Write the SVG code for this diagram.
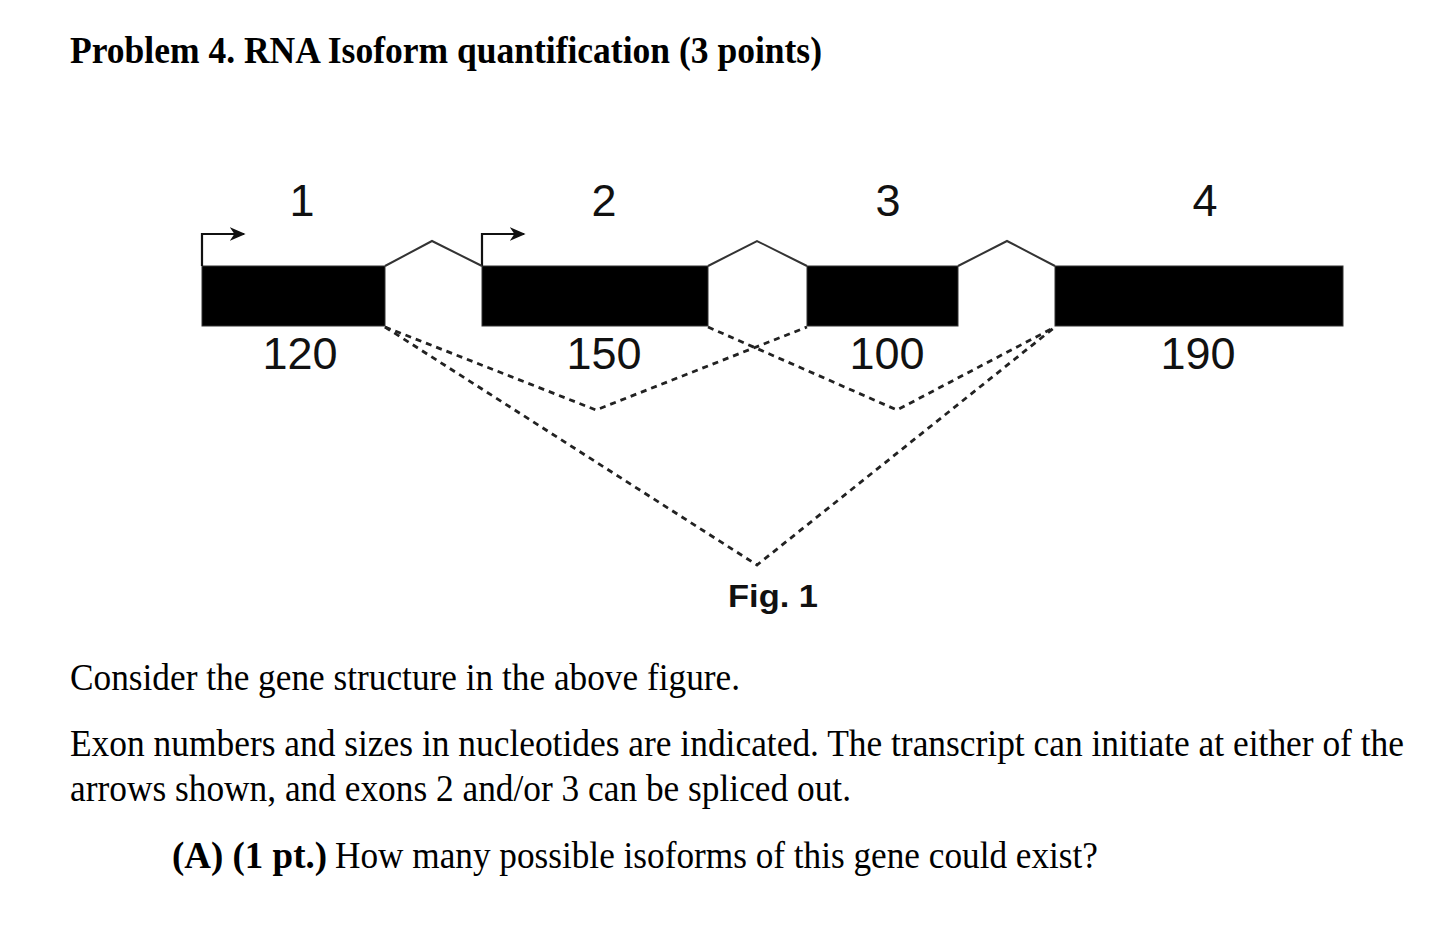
<svg xmlns="http://www.w3.org/2000/svg" width="1430" height="926" viewBox="0 0 1430 926">
<defs>
<style>
.serif{font-family:"Liberation Serif","Times New Roman",serif;fill:#000}
.b{font-weight:bold}
.num{font-family:"Liberation Sans",Arial,sans-serif;font-size:45px;fill:#111;text-anchor:middle}
.exon{fill:#000;stroke:#333;stroke-width:1}
.intron{fill:none;stroke:#333;stroke-width:2}
.skip{fill:none;stroke:#222;stroke-width:2.8;stroke-dasharray:6 5}
.tss{fill:none;stroke:#111;stroke-width:2.2}
</style>
<marker id="ah" viewBox="0 0 10 10" refX="9" refY="5" markerWidth="16" markerHeight="14" markerUnits="userSpaceOnUse" orient="auto" preserveAspectRatio="none">
<path d="M0,0 L10,5 L0,10 L3,5 z" fill="#111"/>
</marker>
</defs>
<rect width="1430" height="926" fill="#fff"/>
<text class="serif b" x="70" y="63" font-size="38" textLength="752" lengthAdjust="spacingAndGlyphs">Problem 4. RNA Isoform quantification (3 points)</text>

<g id="exon1"><rect class="exon" x="202" y="266" width="183" height="60"/><text class="num" x="302" y="216">1</text><text class="num" x="300" y="369">120</text></g>
<g id="exon2"><rect class="exon" x="482" y="266" width="226" height="60"/><text class="num" x="604" y="216">2</text><text class="num" x="604" y="369">150</text></g>
<g id="exon3"><rect class="exon" x="807" y="266" width="151" height="60"/><text class="num" x="888" y="216">3</text><text class="num" x="887" y="369">100</text></g>
<g id="exon4"><rect class="exon" x="1055" y="266" width="288" height="60"/><text class="num" x="1205" y="216">4</text><text class="num" x="1198" y="369">190</text></g>

<g id="connectors">
<path class="tss" d="M202,266 V234 H244" marker-end="url(#ah)"/>
<path class="tss" d="M482,266 V234 H524" marker-end="url(#ah)"/>
<path class="intron" d="M385,266 L432,241 L482,266"/>
<path class="intron" d="M708,266 L757,241 L807,266"/>
<path class="intron" d="M958,266 L1007,241 L1055,266"/>
<path class="skip" d="M385,327 L596,410 L807,327"/>
<path class="skip" d="M385,327 L757,565 L1055,327"/>
<path class="skip" d="M708,327 L897,410 L1055,327"/>
</g>

<text x="728" y="607" font-family="Liberation Sans,Arial,sans-serif" font-weight="bold" font-size="31" fill="#111" textLength="90" lengthAdjust="spacingAndGlyphs">Fig. 1</text>

<text class="serif" x="70" y="690" font-size="37" textLength="670" lengthAdjust="spacingAndGlyphs">Consider the gene structure in the above figure.</text>
<text class="serif" x="70" y="756" font-size="37" textLength="1334" lengthAdjust="spacingAndGlyphs">Exon numbers and sizes in nucleotides are indicated. The transcript can initiate at either of the</text>
<text class="serif" x="70" y="801" font-size="37" textLength="781" lengthAdjust="spacingAndGlyphs">arrows shown, and exons 2 and/or 3 can be spliced out.</text>
<text class="serif" y="868" font-size="37"><tspan class="b" x="172" textLength="155" lengthAdjust="spacingAndGlyphs">(A) (1 pt.)</tspan><tspan x="335" textLength="763" lengthAdjust="spacingAndGlyphs">How many possible isoforms of this gene could exist?</tspan></text>
</svg>
